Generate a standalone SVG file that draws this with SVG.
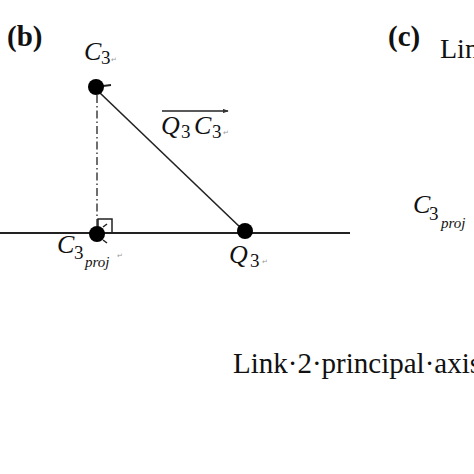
<svg xmlns="http://www.w3.org/2000/svg" width="474" height="474" viewBox="0 0 474 474">
<style>
.lbl{font-family:"Liberation Serif","Times New Roman",serif;fill:#111}
.m{font-family:"Liberation Serif","Times New Roman",serif;font-style:italic;font-size:26px;fill:#111}
.s{font-family:"Liberation Serif","Times New Roman",serif;font-size:19px;fill:#111}
.ss{font-family:"Liberation Serif","Times New Roman",serif;font-style:italic;font-size:15px;fill:#111}
.ret{font-family:"DejaVu Sans",sans-serif;font-size:7px;fill:#999}
.pt{fill:#000}
.ln{stroke:#222;fill:none}
</style>
<defs>
<marker id="ah" viewBox="0 0 8 6" refX="7" refY="3" markerWidth="6" markerHeight="4.5" orient="auto" markerUnits="userSpaceOnUse">
<path d="M0,0 L8,3 L0,6 z" fill="#333"/>
</marker>
</defs>
<rect width="474" height="474" fill="#fff"/>
<text class="lbl" x="7" y="46" font-size="29" font-weight="bold">(b)</text>
<text class="lbl" x="388" y="46" font-size="29" font-weight="bold">(c)</text>
<text class="lbl" x="440" y="58" font-size="28">Lin</text>
<g id="connectors">
<line class="ln" x1="0" y1="233" x2="350" y2="233" stroke-width="2"/>
<line class="ln" x1="97" y1="95" x2="97" y2="226" stroke-width="1.3" stroke-dasharray="8 3 1.5 3"/>
<line class="ln" x1="100" y1="93" x2="243" y2="230" stroke-width="1.6"/>
<rect class="ln" x="98" y="219" width="14" height="14" stroke-width="1.5"/>
<line class="ln" x1="103" y1="86" x2="111" y2="85" stroke-width="2"/>
<line class="ln" x1="103" y1="227" x2="107" y2="224" stroke-width="1.5"/>
<line class="ln" x1="103" y1="240" x2="107" y2="243" stroke-width="1.5"/>
</g>
<g id="C3">
<circle class="pt" cx="96" cy="87" r="8"/>
<text class="m" x="84" y="60">C</text><text class="s" x="101" y="64">3</text><text class="ret" x="111" y="62">↵</text>
</g>
<g id="C3proj">
<circle class="pt" cx="97" cy="234" r="8"/>
<text class="m" x="57" y="253">C</text><text class="s" x="74" y="259">3</text><text class="ss" x="85" y="267">proj</text><text class="ret" x="117" y="258">↵</text>
</g>
<g id="Q3">
<circle class="pt" cx="245" cy="231" r="8"/>
<text class="m" x="229" y="263">Q</text><text class="s" x="250" y="267">3</text><text class="ret" x="262" y="264">↵</text>
</g>
<g id="Q3C3">
<line class="ln" x1="162" y1="111" x2="228" y2="111" stroke-width="1.5" marker-end="url(#ah)"/>
<text class="m" x="161" y="134">Q</text><text class="s" x="181" y="138">3</text><text class="m" x="194" y="134">C</text><text class="s" x="212" y="138">3</text><text class="ret" x="223" y="135">↵</text>
</g>
<g id="C3proj-c">
<text class="m" x="413" y="213">C</text><text class="s" x="429" y="220">3</text><text class="ss" x="441" y="228">proj</text>
</g>
<text class="lbl" x="233" y="373" font-size="29">Link·2·principal·axis</text>
</svg>
